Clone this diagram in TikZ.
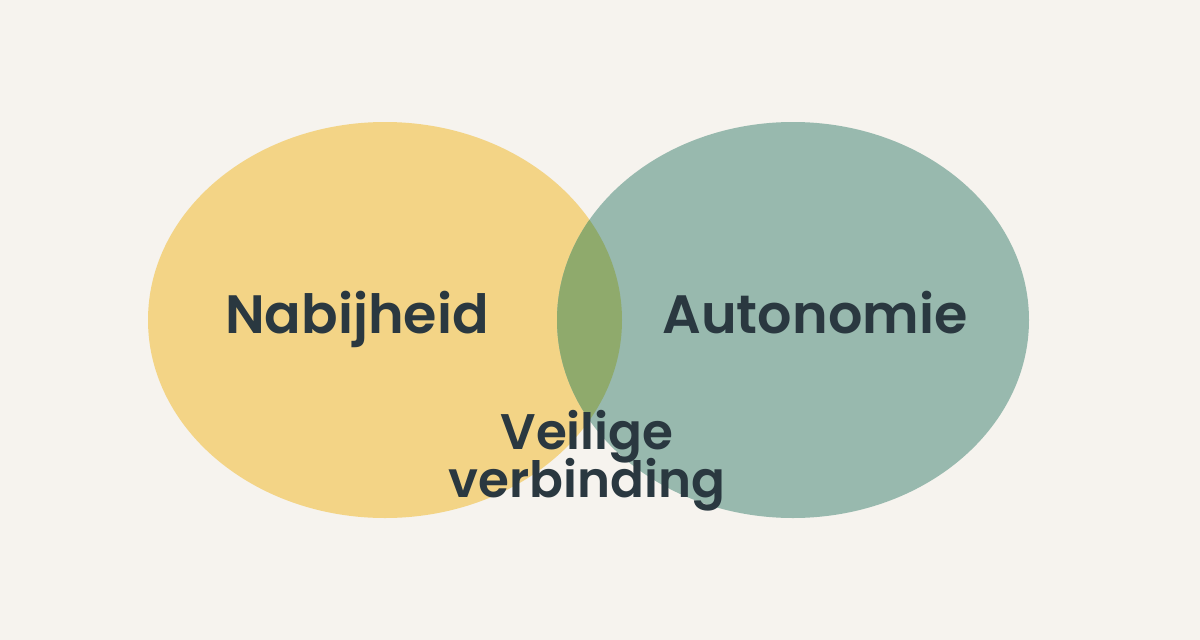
\documentclass[tikz,border=0pt]{standalone}
\usepackage{fontspec}
\setmainfont{Poppins}[BoldFont={Poppins SemiBold}]
\definecolor{bgc}{HTML}{F6F3EE}
\definecolor{yel}{HTML}{F3D486}
\definecolor{teal}{HTML}{98B9AE}
\definecolor{lens}{HTML}{8FAA6C}
\definecolor{ink}{HTML}{2A3840}
\begin{document}
\begin{tikzpicture}[x=1pt,y=-1pt,
  lbl/.style={text=ink,font=\fontsize{50}{48}\selectfont\bfseries,inner sep=0pt,align=center},
  biglbl/.style={lbl,font=\fontsize{54}{50}\selectfont\bfseries}]
\fill[bgc] (0,0) rectangle (1200,640);
\useasboundingbox (0,0) rectangle (1200,640);
\fill[yel] (385,320) ellipse [x radius=237, y radius=198];
\fill[teal] (793,320) ellipse [x radius=236, y radius=198];
\begin{scope}
  \clip (385,320) ellipse [x radius=237, y radius=198];
  \fill[lens] (793,320) ellipse [x radius=236, y radius=198];
\end{scope}
\node[biglbl,anchor=base] (nab) at (357,333) {Nabijheid};
\node[biglbl,anchor=base] (aut) at (815,333) {Autonomie};
\node[lbl,anchor=base] (vei) at (587,449) {Veilige};
\node[lbl,anchor=base] (ver) at (587,497) {verbinding};
\end{tikzpicture}
\end{document}
